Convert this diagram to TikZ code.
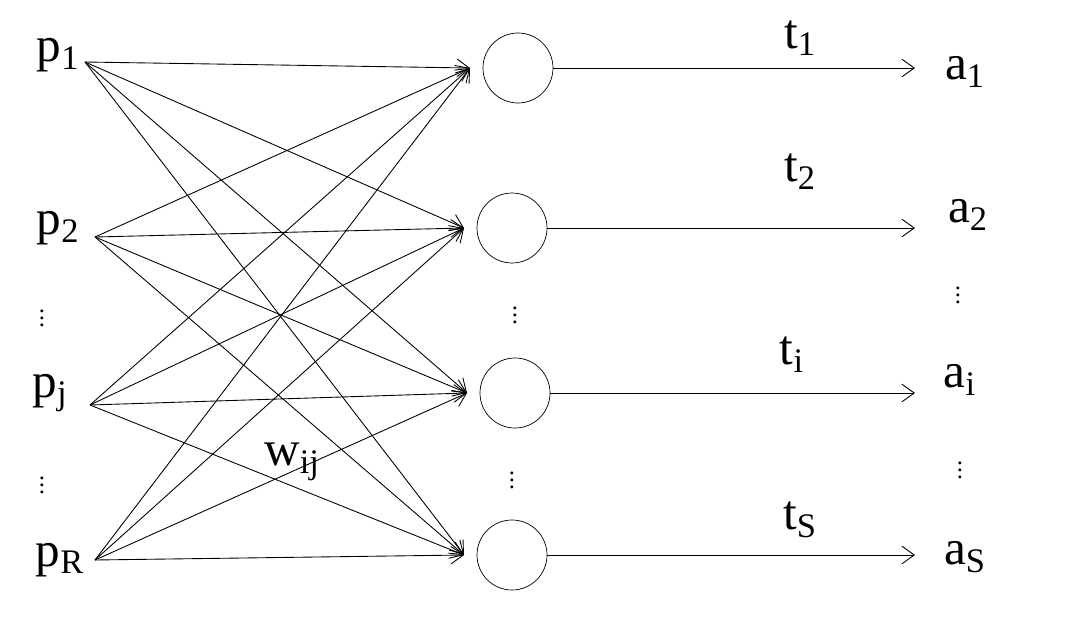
\documentclass[tikz,border=0pt]{standalone}
\usepackage{fontspec}
\usetikzlibrary{arrows.meta}
\setmainfont{Liberation Serif}
\begin{document}
\begin{tikzpicture}[x=0.02cm,y=-0.02cm,
  lbl/.style={font=\fontsize{28}{30}\selectfont,inner sep=0},
  neu/.style={circle,draw,minimum size=70*0.02cm,inner sep=0},
  con/.style={-{Straight Barb[length=7pt,width=10pt]},line width=0.5pt},
  vd/.style={font=\fontsize{14}{14}\selectfont,inner sep=0}]
\useasboundingbox (0,0) rectangle (1082,622);
\node[lbl] (p1) at (58,55) {p$_{\mathrm{1}}$};
\node[lbl] (p2) at (58,228) {p$_{\mathrm{2}}$};
\node[vd] (d1) at (42,313) {$\vdots$};
\node[lbl] (pj) at (50,393) {p$_{\mathrm{j}}$};
\node[vd] (d2) at (42,480) {$\vdots$};
\node[lbl] (pR) at (60,560) {p$_{\mathrm{R}}$};
\coordinate (s1) at (85,62);
\coordinate (s2) at (95,237);
\coordinate (sj) at (90,405);
\coordinate (sR) at (95,560);
\node[neu] (n1) at (518,68) {};
\node[neu] (n2) at (512,228) {};
\node[neu] (ni) at (515,393) {};
\node[neu] (nS) at (512,555) {};
\node[vd] (d3) at (515,310) {$\vdots$};
\node[vd] (d4) at (512,475) {$\vdots$};
\coordinate (e1) at (470,68);
\coordinate (e2) at (464,228);
\coordinate (ei) at (467,393);
\coordinate (eS) at (464,555);
\foreach \s in {s1,s2,sj,sR}
  \foreach \e in {e1,e2,ei,eS}
    \draw[con] (\s) -- (\e);
\node[lbl] (w) at (292,462) {w$_{\mathrm{ij}}$};
\coordinate (o1) at (915,68);
\coordinate (o2) at (915,228);
\coordinate (oi) at (915,393);
\coordinate (oS) at (915,555);
\draw[con] (n1.east) -- (o1);
\draw[con] (n2.east) -- (o2);
\draw[con] (ni.east) -- (oi);
\draw[con] (nS.east) -- (oS);
\node[lbl] (t1) at (800,38) {t$_{\mathrm{1}}$};
\node[lbl] (t2) at (800,172) {t$_{\mathrm{2}}$};
\node[lbl] (ti) at (792,355) {t$_{\mathrm{i}}$};
\node[lbl] (tS) at (800,520) {t$_{\mathrm{S}}$};
\node[lbl] (a1) at (965,72) {a$_{\mathrm{1}}$};
\node[lbl] (a2) at (968,215) {a$_{\mathrm{2}}$};
\node[vd] (d5) at (958,290) {$\vdots$};
\node[lbl] (ai) at (960,380) {a$_{\mathrm{i}}$};
\node[vd] (d6) at (960,465) {$\vdots$};
\node[lbl] (aS) at (965,557) {a$_{\mathrm{S}}$};
\end{tikzpicture}
\end{document}
